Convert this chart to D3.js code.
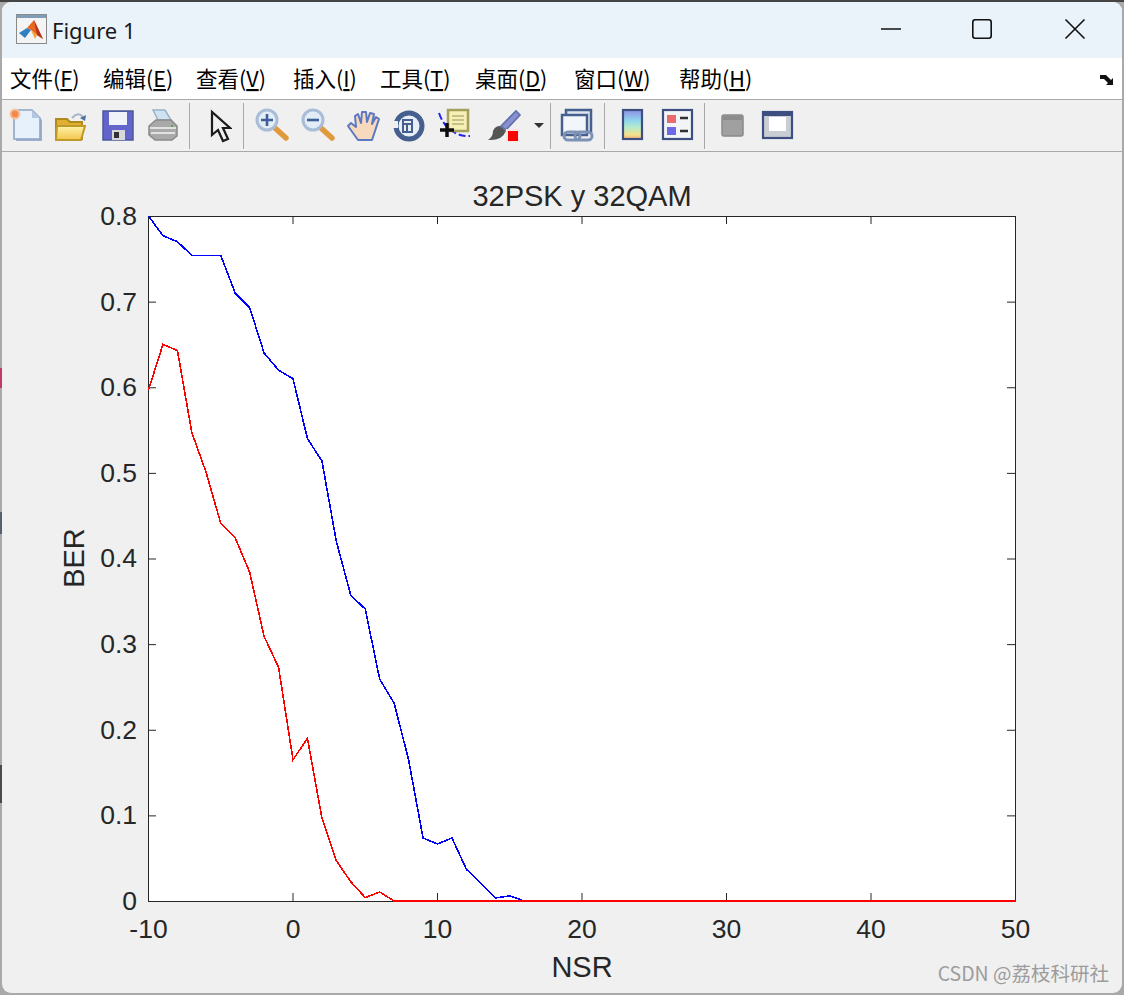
<!DOCTYPE html>
<html>
<head>
<meta charset="utf-8">
<script src="https://cdnjs.cloudflare.com/ajax/libs/d3/7.8.5/d3.min.js"></script>
<style>
  html, body { margin: 0; padding: 0; background: #a9a9a9; overflow: hidden; }
  svg { display: block; }
</style>
</head>
<body>
<div id="chart"></div>
<script>
// Chart values
const nsr = d3.range(-10, 51);
const berPsk = [0.8, 0.777, 0.77, 0.754, 0.754, 0.754, 0.71, 0.693, 0.64, 0.62, 0.61,
  0.54, 0.514, 0.42, 0.357, 0.341, 0.259, 0.231, 0.165, 0.0736, 0.0666, 0.0736,
  0.037, 0.021, 0.0035, 0.006].concat(new Array(35).fill(0));
const berQam = [0.597, 0.65, 0.643, 0.547, 0.5, 0.441, 0.424, 0.384, 0.309, 0.273, 0.165,
  0.19, 0.097, 0.047, 0.0225, 0.004, 0.0105].concat(new Array(44).fill(0));
const xTicks = [-10, 0, 10, 20, 30, 40, 50];
const yTicks = [0, 0.1, 0.2, 0.3, 0.4, 0.5, 0.6, 0.7, 0.8];
const menuItems = [
  { label: "文件", key: "F", x: 10 },
  { label: "编辑", key: "E", x: 103 },
  { label: "查看", key: "V", x: 196 },
  { label: "插入", key: "I", x: 293 },
  { label: "工具", key: "T", x: 380 },
  { label: "桌面", key: "D", x: 475 },
  { label: "窗口", key: "W", x: 574 },
  { label: "帮助", key: "H", x: 679 }
];
const toolbarSeparators = [189, 243, 550, 604, 704];

const width = 1124;
const height = 995;
const plot = { left: 148, right: 1015, top: 216, bottom: 901 };

const svg = d3.select("#chart").append("svg")
    .attr("width", width)
    .attr("height", height);

const uiFont = "'Noto Sans CJK SC', 'Noto Sans', sans-serif";
const plotFont = "'Liberation Sans', Arial, sans-serif";

// Gradients for the toolbar icons
const defs = svg.append("defs");
const colorbar = defs.append("linearGradient").attr("id", "colorbarFill")
    .attr("x1", 0).attr("x2", 0).attr("y1", 0).attr("y2", 1);
[["0%", "#8f8fe6"], ["35%", "#8fd4ee"], ["60%", "#b6eccb"], ["85%", "#f4e08c"], ["100%", "#f3b078"]]
    .forEach(s => colorbar.append("stop").attr("offset", s[0]).attr("stop-color", s[1]));
const folderFill = defs.append("linearGradient").attr("id", "folderFill")
    .attr("x1", 0).attr("x2", 0).attr("y1", 0).attr("y2", 1);
[["0%", "#fff2a8"], ["100%", "#f2c64c"]]
    .forEach(s => folderFill.append("stop").attr("offset", s[0]).attr("stop-color", s[1]));
// Icons in the reference are slightly soft, it was scaled up
defs.append("filter").attr("id", "soft")
    .attr("x", "-10%").attr("y", "-10%").attr("width", "120%").attr("height", "120%")
  .append("feGaussianBlur").attr("stdDeviation", 0.55);

// Desktop behind the window, showing at the edges
svg.append("rect").attr("width", width).attr("height", 2).attr("fill", "#444444");
svg.append("rect").attr("x", 0).attr("y", 368).attr("width", 2).attr("height", 20).attr("fill", "#c23a66");
svg.append("rect").attr("x", 0).attr("y", 512).attr("width", 2).attr("height", 22).attr("fill", "#56606e");
svg.append("rect").attr("x", 0).attr("y", 765).attr("width", 2).attr("height", 38).attr("fill", "#4a4a4a");

// Window frame, clipped to the rounded corners
defs.append("clipPath").attr("id", "windowClip")
  .append("rect")
    .attr("x", 2).attr("y", 2).attr("width", 1120).attr("height", 991).attr("rx", 9);
const win = svg.append("g").attr("clip-path", "url(#windowClip)");

win.append("rect").attr("x", 2).attr("y", 2).attr("width", 1120).attr("height", 991).attr("fill", "#f0f0f0");
win.append("rect").attr("x", 2).attr("y", 2).attr("width", 1120).attr("height", 56).attr("fill", "#eaf3fa");
win.append("rect").attr("x", 2).attr("y", 58).attr("width", 1120).attr("height", 41).attr("fill", "#ffffff");
win.append("rect").attr("x", 2).attr("y", 99).attr("width", 1120).attr("height", 1).attr("fill", "#a9a9a9");
win.append("rect").attr("x", 2).attr("y", 151).attr("width", 1120).attr("height", 1).attr("fill", "#a9a9a9");

// Title bar
const logo = win.append("g").attr("transform", "translate(16,14)");
logo.append("rect").attr("x", 0.5).attr("y", 0.5).attr("width", 30).attr("height", 29)
    .attr("fill", "#f4f4f4").attr("stroke", "#8a8a8a");
logo.append("rect").attr("x", 1).attr("y", 1).attr("width", 29).attr("height", 3).attr("fill", "#7f9db9");
logo.append("path").attr("d", "M3,19 L11,14 L15,16 L9,24 Z").attr("fill", "#2f7fc1");
logo.append("path").attr("d", "M11,14 L18,6 L27,25 L21,21 L15,16 Z").attr("fill", "#e8681e");
logo.append("path").attr("d", "M18,6 L21,21 L27,25 Z").attr("fill", "#b8321a");
logo.append("path").attr("d", "M15,16 L21,21 L19,25 Z").attr("fill", "#f2a63a");

win.append("text").attr("x", 52).attr("y", 39)
    .attr("font-family", "'Noto Sans', sans-serif").attr("font-size", 22).attr("fill", "#1a1a1a")
    .text("Figure 1");

const caption = win.append("g").attr("fill", "none").attr("stroke", "#111").attr("stroke-width", 1.6);
caption.append("path").attr("d", "M881,29 H901");
caption.append("rect").attr("x", 972.8).attr("y", 19.8).attr("width", 18.4).attr("height", 18.4).attr("rx", 2.5);
caption.append("path").attr("d", "M1065.5,19.5 L1084.5,38.5 M1084.5,19.5 L1065.5,38.5");

// Menu bar
menuItems.forEach(m => {
  const t = win.append("text").attr("x", m.x).attr("y", 87)
      .attr("font-family", uiFont).attr("font-size", 21.5).attr("fill", "#000");
  t.append("tspan").text(m.label + "(");
  t.append("tspan").attr("text-decoration", "underline").text(m.key);
  t.append("tspan").text(")");
});
win.append("path").attr("d", "M1100,75 L1106,75 L1111,80 L1113,78 L1113,85 L1106,85 L1108,83 L1104,79 L1100,79 Z").attr("fill", "#111");

// Toolbar separators
win.selectAll(".toolbar-sep")
  .data(toolbarSeparators)
  .enter().append("rect")
    .attr("class", "toolbar-sep")
    .attr("x", d => d).attr("y", 103).attr("width", 1).attr("height", 46)
    .attr("fill", "#a8a8a8");

// Toolbar icons
const icon = (x, y) => win.append("g").attr("transform", `translate(${x},${y})`).attr("filter", "url(#soft)");

let ic = icon(9, 108); // new
ic.append("path").attr("d", "M7,4 H25 L33,12 V33 H7 Z").attr("fill", "#9fb0cc");
ic.append("path").attr("d", "M5,2 H23 L31,10 V31 H5 Z").attr("fill", "#e6f1fb").attr("stroke", "#8fa5c8").attr("stroke-width", 1.6);
ic.append("path").attr("d", "M23,2 V10 H31 Z").attr("fill", "#b4c6e0");
ic.append("circle").attr("cx", 6).attr("cy", 6).attr("r", 4.5).attr("fill", "#f08a50").attr("stroke", "#f6c3a0").attr("stroke-width", 2);

ic = icon(54, 110); // open
ic.append("path").attr("d", "M2,9 H13 L16,12 H28 V29 H2 Z").attr("fill", "#e0b030").attr("stroke", "#b08a1e").attr("stroke-width", 2);
ic.append("path").attr("d", "M3,16 H31 L27,30 H2 Z").attr("fill", "url(#folderFill)").attr("stroke", "#c09a26").attr("stroke-width", 2);
ic.append("path").attr("d", "M18,8 Q24,1 29,7").attr("fill", "none").attr("stroke", "#a9b4c4").attr("stroke-width", 2);
ic.append("path").attr("d", "M26,8 L32,5 L31,11 Z").attr("fill", "#4f6fa0");

ic = icon(103, 110); // save
ic.append("rect").attr("x", 0).attr("y", 1).attr("width", 30).attr("height", 29).attr("fill", "#6464cc").attr("stroke", "#4a5a96").attr("stroke-width", 1.5);
ic.append("rect").attr("x", 6).attr("y", 2).attr("width", 18).attr("height", 13).attr("fill", "#f0f2fa");
ic.append("rect").attr("x", 9).attr("y", 20).attr("width", 13).attr("height", 10).attr("fill", "#d8d8dc");
ic.append("rect").attr("x", 11).attr("y", 22).attr("width", 5).attr("height", 6).attr("fill", "#333");

ic = icon(148, 108); // print
ic.append("path").attr("d", "M5,2 H17 L23,12 H10 Z").attr("fill", "#cfe2f2").attr("stroke", "#9db1c6").attr("stroke-width", 1.5);
ic.append("path").attr("d", "M1,18 L8,12 H23 L29,18 V28 L24,32 H7 L1,27 Z").attr("fill", "#a9a9a9").attr("stroke", "#8a8a8a").attr("stroke-width", 1.5);
ic.append("path").attr("d", "M2,20 H28 M3,25 H27").attr("stroke", "#e2e2e2").attr("stroke-width", 2);
ic.append("rect").attr("x", 23).attr("y", 17).attr("width", 2).attr("height", 2).attr("fill", "#4caf50");

ic = icon(210, 110); // pointer
ic.append("path").attr("d", "M2,2 L2,25 L8,20 L13,31 L18,29 L13,18 L20,18 Z").attr("fill", "#f0f0f0").attr("stroke", "#1a1a1a").attr("stroke-width", 2.2);

const magnifier = (x, y, sym) => {
  const g = icon(x, y);
  g.append("path").attr("d", "M20,19 L31,29").attr("stroke", "#e09a3c").attr("stroke-width", 5.5).attr("stroke-linecap", "round");
  g.append("circle").attr("cx", 12).attr("cy", 11).attr("r", 10).attr("fill", "#e2edf6").attr("stroke", "#a9bdd8").attr("stroke-width", 3);
  g.append("path").attr("d", sym).attr("stroke", "#3f5f98").attr("stroke-width", 2.6);
};
magnifier(255, 109, "M6,11 H18 M12,5 V17");
magnifier(301, 109, "M6,11 H18");

ic = icon(347, 109); // pan
ic.append("path").attr("d", "M6,24 L1,17 L4,14 L9,18 L8,7 L11,5 L14,14 L15,3 L19,3 L20,13 L23,4 L27,5 L25,15 L29,8 L32,10 L28,22 L25,31 H11 Z")
    .attr("fill", "#f7d9bd").attr("stroke", "#5c78c0").attr("stroke-width", 2).attr("stroke-linejoin", "round");

ic = icon(393, 110); // rotate
ic.append("circle").attr("cx", 16).attr("cy", 16).attr("r", 13).attr("fill", "#e8eef5").attr("stroke", "#44608e").attr("stroke-width", 5);
ic.append("path").attr("d", "M10,10 H19 V22 H10 Z M10,14 H19 M14,14 V22").attr("fill", "none").attr("stroke", "#44608e").attr("stroke-width", 2);
ic.append("rect").attr("x", 0).attr("y", 11).attr("width", 5).attr("height", 7).attr("fill", "#f0f0f0");

ic = icon(438, 109); // data cursor
ic.append("path").attr("d", "M1,4 Q5,16 14,22 T32,27").attr("fill", "none").attr("stroke", "#2222ee").attr("stroke-width", 2).attr("stroke-dasharray", "7 3");
ic.append("rect").attr("x", 10).attr("y", 1).attr("width", 20).attr("height", 21).attr("fill", "#f6f0b4").attr("stroke", "#a39f5c").attr("stroke-width", 2.5);
ic.append("path").attr("d", "M14,7 H26 M14,11 H26 M14,15 H26").attr("stroke", "#b6b27a").attr("stroke-width", 1.6);
ic.append("path").attr("d", "M2,21 H16 M9,14 V28").attr("stroke", "#111").attr("stroke-width", 3.5);

ic = icon(487, 109); // brush
ic.append("path").attr("d", "M14,17 L29,2 L33,6 L19,21 Z").attr("fill", "#8a8fd0").attr("stroke", "#5d6fae").attr("stroke-width", 1.6);
ic.append("path").attr("d", "M13,17 L19,22 Q15,32 1,31 Q6,28 6,22 Q8,17 13,17 Z").attr("fill", "#555");
ic.append("rect").attr("x", 19).attr("y", 20).attr("width", 13).attr("height", 13).attr("fill", "#fbe3e3");
ic.append("rect").attr("x", 21).attr("y", 22).attr("width", 10).attr("height", 10).attr("fill", "#ff0000");
win.append("path").attr("d", "M534,123 H544 L539,128 Z").attr("fill", "#333");

ic = icon(561, 108); // link
ic.append("rect").attr("x", 5).attr("y", 2).attr("width", 25).attr("height", 22).attr("fill", "#dfe6ef").attr("stroke", "#44608e").attr("stroke-width", 2.5);
ic.append("rect").attr("x", 1).attr("y", 7).attr("width", 25).attr("height", 20).attr("fill", "#f2f5f9").attr("stroke", "#44608e").attr("stroke-width", 2.5);
ic.append("rect").attr("x", 3).attr("y", 24).attr("width", 16).attr("height", 8).attr("rx", 4).attr("fill", "none").attr("stroke", "#7d93b5").attr("stroke-width", 3);
ic.append("rect").attr("x", 14).attr("y", 24).attr("width", 17).attr("height", 8).attr("rx", 4).attr("fill", "none").attr("stroke", "#7d93b5").attr("stroke-width", 3);

ic = icon(622, 109); // colorbar
ic.append("rect").attr("x", 1).attr("y", 1).attr("width", 19).attr("height", 29).attr("fill", "url(#colorbarFill)").attr("stroke", "#3c4f80").attr("stroke-width", 2.2);

ic = icon(662, 109); // legend
ic.append("rect").attr("x", 1).attr("y", 1).attr("width", 29).attr("height", 29).attr("fill", "#f2f4f8").attr("stroke", "#3c4f80").attr("stroke-width", 2.2);
ic.append("rect").attr("x", 5).attr("y", 6).attr("width", 9).attr("height", 8).attr("fill", "#e86a6a");
ic.append("rect").attr("x", 5).attr("y", 18).attr("width", 9).attr("height", 8).attr("fill", "#6a6ae8");
ic.append("path").attr("d", "M18,9 H26 M18,22 H26").attr("stroke", "#333").attr("stroke-width", 2.4);

ic = icon(722, 115); // hide tools
ic.append("rect").attr("x", 0).attr("y", 0).attr("width", 21).attr("height", 21).attr("rx", 2).attr("fill", "#a0a0a0").attr("stroke", "#8a8a8a").attr("stroke-width", 1.5);
ic.append("rect").attr("x", 1).attr("y", 1).attr("width", 19).attr("height", 4).attr("fill", "#8c8c8c");

ic = icon(762, 111); // dock
ic.append("rect").attr("x", 1).attr("y", 1).attr("width", 29).attr("height", 26).attr("fill", "#c9cdd4").attr("stroke", "#3c4f80").attr("stroke-width", 2.2);
ic.append("rect").attr("x", 1).attr("y", 1).attr("width", 29).attr("height", 4).attr("fill", "#3c4f80");
ic.append("rect").attr("x", 7).attr("y", 6).attr("width", 17).attr("height", 14).attr("fill", "#ffffff");

// Scales and axes
const x = d3.scaleLinear().domain([-10, 50]).range([plot.left, plot.right]);
const y = d3.scaleLinear().domain([0, 0.8]).range([plot.bottom, plot.top]);

win.append("rect")
    .attr("x", plot.left).attr("y", plot.top)
    .attr("width", plot.right - plot.left).attr("height", plot.bottom - plot.top)
    .attr("fill", "#ffffff");

const axisColor = "#262626";
const styleAxis = g => {
  g.attr("font-family", plotFont).attr("font-size", 26.5);
  g.selectAll("path.domain").attr("stroke", axisColor);
  g.selectAll("line").attr("stroke", axisColor);
  g.selectAll("text").attr("fill", axisColor);
};
const tickLen = 8;

win.append("g")
    .attr("transform", `translate(0,${plot.bottom})`)
    .call(d3.axisBottom(x).tickValues(xTicks).tickFormat(String).tickSize(-tickLen).tickSizeOuter(0).tickPadding(18.5))
    .call(styleAxis);
win.append("g")
    .attr("transform", `translate(${plot.left},0)`)
    .call(d3.axisLeft(y).tickValues(yTicks).tickFormat(d => d === 0 ? "0" : d3.format(".1f")(d))
      .tickSize(-tickLen).tickSizeOuter(0).tickPadding(11))
    .call(styleAxis);
// top and right box edges, ticks mirrored
win.append("g")
    .attr("transform", `translate(0,${plot.top})`)
    .call(d3.axisTop(x).tickValues(xTicks).tickSize(-tickLen).tickSizeOuter(0).tickFormat(""))
    .call(styleAxis);
win.append("g")
    .attr("transform", `translate(${plot.right},0)`)
    .call(d3.axisRight(y).tickValues(yTicks).tickSize(-tickLen).tickSizeOuter(0).tickFormat(""))
    .call(styleAxis);

// Lines go over the axes, the red one runs on top of the bottom edge
const line = values => d3.line()
    .x((d, i) => x(nsr[i]) + 0.5)
    .y(d => y(d))(values);

const series = win.append("g").attr("fill", "none").attr("stroke-width", 1.6)
    .attr("shape-rendering", "crispEdges");
series.append("path").attr("d", line(berPsk)).attr("stroke", "#0000ff");
series.append("path").attr("d", line(berQam)).attr("stroke", "#ff0000");

// Title and axis labels
const label = (text, lx, ly, rotate) => win.append("text")
    .attr("transform", `translate(${lx},${ly})` + (rotate ? ` rotate(${rotate})` : ""))
    .attr("text-anchor", "middle")
    .attr("font-family", plotFont).attr("font-size", 29).attr("fill", axisColor)
    .text(text);
label("32PSK y 32QAM", 582, 206);
label("NSR", 582, 977);
label("BER", 84, 558, -90);

// Watermark
win.append("text").attr("x", 1109).attr("y", 981).attr("text-anchor", "end")
    .attr("font-family", uiFont).attr("font-size", 19.5).attr("fill", "#9c9c9c")
    .text("CSDN @荔枝科研社");
</script>
</body>
</html>
